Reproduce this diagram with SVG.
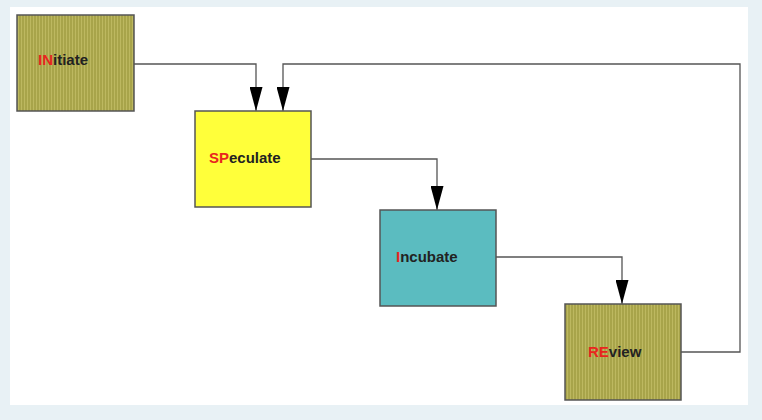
<svg xmlns="http://www.w3.org/2000/svg" width="762" height="420" viewBox="0 0 762 420">
<defs>
<pattern id="hatch" width="3" height="4" patternUnits="userSpaceOnUse">
<rect width="3" height="4" fill="#a8a44a"/>
<rect width="1" height="4" fill="#bdb860"/>
</pattern>
<marker id="arr" viewBox="0 0 10 10" refX="10" refY="5" markerWidth="24" markerHeight="13" markerUnits="userSpaceOnUse" orient="auto" preserveAspectRatio="none">
<path d="M0,0 L10,5 L0,10 Z" fill="#000"/>
</marker>
<style>
.box{stroke:#555;stroke-width:1.5}
.lbl{font-family:"Liberation Sans",Arial,sans-serif;font-size:15px;font-weight:bold;fill:#222}
.r{fill:#e8261e}
.c{fill:none;stroke:#555;stroke-width:1.3}
</style>
</defs>
<rect width="762" height="420" fill="#e8f1f5"/>
<rect x="10" y="7" width="738" height="398" fill="#fff"/>
<g id="connectors">
<path class="c" d="M134,64 H256 V111" marker-end="url(#arr)"/>
<path class="c" d="M681,352 H740 V64 H283 V111" marker-end="url(#arr)"/>
<path class="c" d="M311,159 H437 V210" marker-end="url(#arr)"/>
<path class="c" d="M496,257 H622 V304" marker-end="url(#arr)"/>
</g>
<g id="initiate"><rect class="box" x="17" y="15" width="117" height="96" fill="url(#hatch)"/>
<text class="lbl" x="38" y="65"><tspan class="r">IN</tspan>itiate</text></g>
<g id="speculate"><rect class="box" x="195" y="111" width="116" height="96" fill="#ffff3a"/>
<text class="lbl" x="209" y="163"><tspan class="r">SP</tspan>eculate</text></g>
<g id="incubate"><rect class="box" x="380" y="210" width="116" height="96" fill="#5bbcc0"/>
<text class="lbl" x="396" y="262"><tspan class="r">I</tspan>ncubate</text></g>
<g id="review"><rect class="box" x="565" y="304" width="116" height="96" fill="url(#hatch)"/>
<text class="lbl" x="588" y="357"><tspan class="r">RE</tspan>view</text></g>
</svg>
